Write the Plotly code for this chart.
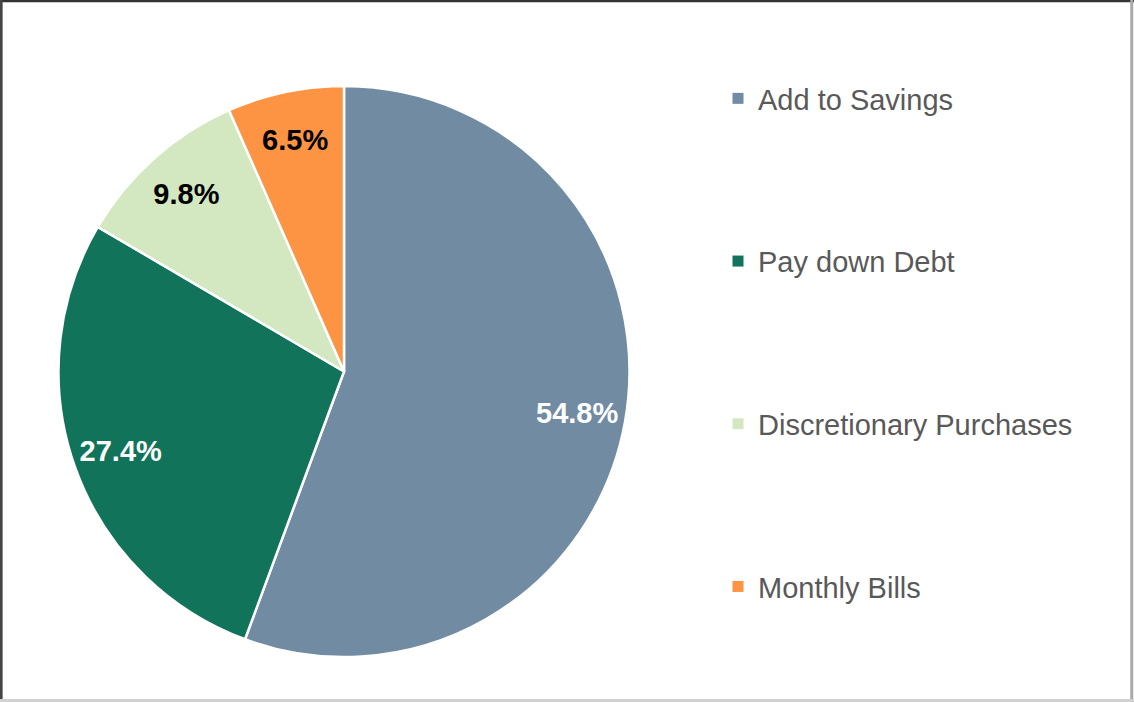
import plotly.graph_objects as go

categories = ["Add to Savings", "Pay down Debt", "Discretionary Purchases", "Monthly Bills"]
shares = [54.8, 27.4, 9.8, 6.5]
colors = ["#718BA3", "#10735A", "#D3E8C0", "#FC9444"]
label_colors = ["white", "white", "black", "black"]

pie_domain = dict(x=[58 / 1134, 630 / 1134], y=[1 - 657 / 702, 1 - 86 / 702])

fig = go.Figure()

fig.add_trace(go.Pie(
    labels=categories,
    values=shares,
    sort=False,
    direction="clockwise",
    rotation=0,
    marker=dict(colors=colors, line=dict(color="white", width=2.5)),
    textinfo="none",
    hoverinfo="label+value",
    showlegend=False,
    domain=pie_domain,
))

# transparent ring on top, only to carry the labels out toward the rim
fig.add_trace(go.Pie(
    labels=categories,
    values=shares,
    sort=False,
    direction="clockwise",
    rotation=0,
    hole=0.66,
    marker=dict(colors=["rgba(0,0,0,0)"] * 4, line=dict(width=0)),
    texttemplate="%{value:.1f}%",
    textposition="inside",
    insidetextorientation="horizontal",
    textfont=dict(family="Liberation Sans", size=29, color=label_colors, weight="bold"),
    hoverinfo="skip",
    showlegend=False,
    domain=pie_domain,
))

# legend entries (one group each so they can be spread out)
for name, c in zip(categories, colors):
    fig.add_trace(go.Scatter(
        x=[None], y=[None], mode="markers", name=name,
        marker=dict(symbol="square", size=11, color=c),
        legendgroup=name, showlegend=True,
    ))

fig.update_layout(
    width=1134, height=702,
    margin=dict(l=0, r=0, t=0, b=0),
    paper_bgcolor="white", plot_bgcolor="white",
    xaxis=dict(visible=False), yaxis=dict(visible=False),
    legend=dict(
        x=718 / 1134, y=1 - 73 / 702, xanchor="left", yanchor="top",
        font=dict(family="Liberation Sans", size=29, color="#595959"),
        tracegroupgap=122, itemwidth=30,
        bgcolor="rgba(0,0,0,0)",
    ),
    shapes=[
        dict(type="line", xref="paper", yref="paper", x0=0, x1=1, y0=0.999, y1=0.999,
             line=dict(color="#333333", width=3)),
        dict(type="line", xref="paper", yref="paper", x0=0.001, x1=0.001, y0=0, y1=1,
             line=dict(color="#444444", width=3)),
        dict(type="line", xref="paper", yref="paper", x0=0.998, x1=0.998, y0=0, y1=1,
             line=dict(color="#AAAAAA", width=3)),
        dict(type="line", xref="paper", yref="paper", x0=0, x1=1, y0=0.002, y1=0.002,
             line=dict(color="#D0D0D0", width=3)),
    ],
)

fig.write_html("out.html", config={"displayModeBar": False},
               post_script="document.body.style.margin='0';")
